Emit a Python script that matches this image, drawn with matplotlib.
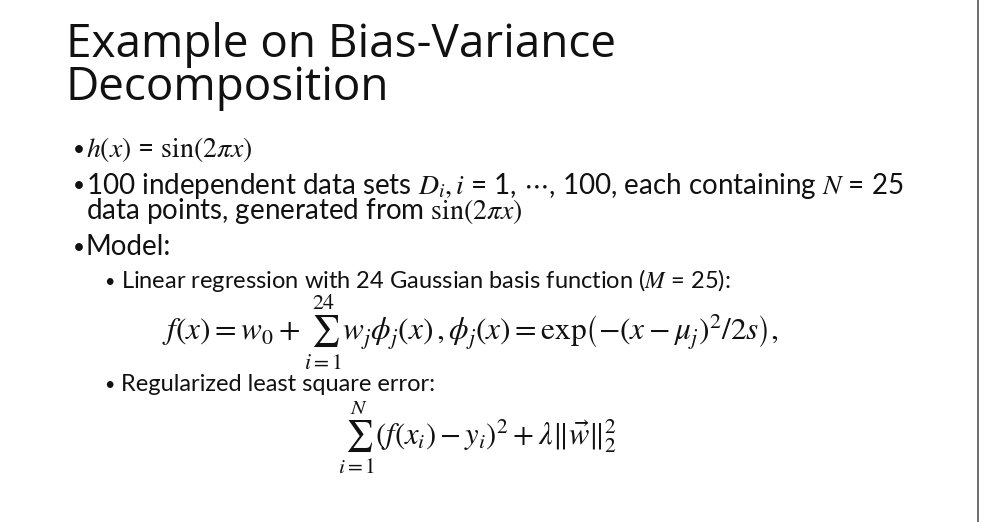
import matplotlib
matplotlib.use("Agg")
import matplotlib.pyplot as plt

# slide text
title_lines = ["Example on Bias-Variance", "Decomposition"]
bullets = [
    r"$h(x)$ = $\mathrm{sin}(2\pi x)$",
    r"100 independent data sets $D_i, i$ = 1, $\cdots$, 100, each containing $N$ = 25"
    "\n" r"data points, generated from $\mathrm{sin}(2\pi x)$",
    "Model:",
]
sub_bullets = [
    r"Linear regression with 24 Gaussian basis function ($M$ = 25):",
    "Regularized least square error:",
]
formula_1 = (r"$f(x) = w_0 + \sum_{i=1}^{24} w_j\phi_j(x)\,,\phi_j(x) = "
             r"\mathrm{exp}\left(-\left(x - \mu_j\right)^2/2s\right),$")
formula_2 = r"$\sum_{i=1}^{N}(f(x_i) - y_i)^2 + \lambda\|\vec{w}\|_2^2$"

W, H = 984, 522
plt.rcParams["mathtext.fontset"] = "stix"
plt.rcParams["font.family"] = ["Lato", "DejaVu Sans"]

fig = plt.figure(figsize=(W / 100, H / 100), dpi=100)
fig.patch.set_facecolor("white")


def put(x, y, s, size, va="baseline", **kw):
    # pixel coords from the top-left corner
    return fig.text(x / W, 1 - y / H, s, fontsize=size, va=va, ha="left",
                    color="#111111", **kw)


# title
put(66, 57, title_lines[0], 33, family="Open Sans")
put(66, 100, title_lines[1], 33, family="Open Sans")

# main bullets
body = 20
put(73, 156, "\u2022", 15)
put(86, 157, bullets[0], body)
put(73, 192, "\u2022", 15)
put(86, 171, bullets[1], body, va="top", linespacing=0.8)
put(73, 254, "\u2022", 15)
put(86, 255, bullets[2], body)

# sub bullets
small = 17
put(104, 287, "\u2022", 13)
put(121, 288, sub_bullets[0], small)
put(104, 390, "\u2022", 13)
put(121, 391, sub_bullets[1], small)

# formulas
put(162, 340, formula_1, 22.5)
put(338, 445, formula_2, 22)

# right edge line of the slide window
fig.add_artist(plt.Line2D([978 / W, 978 / W], [0, 1], color="#555555", lw=1.2))

fig.savefig("out.png", dpi=100, facecolor="white")
